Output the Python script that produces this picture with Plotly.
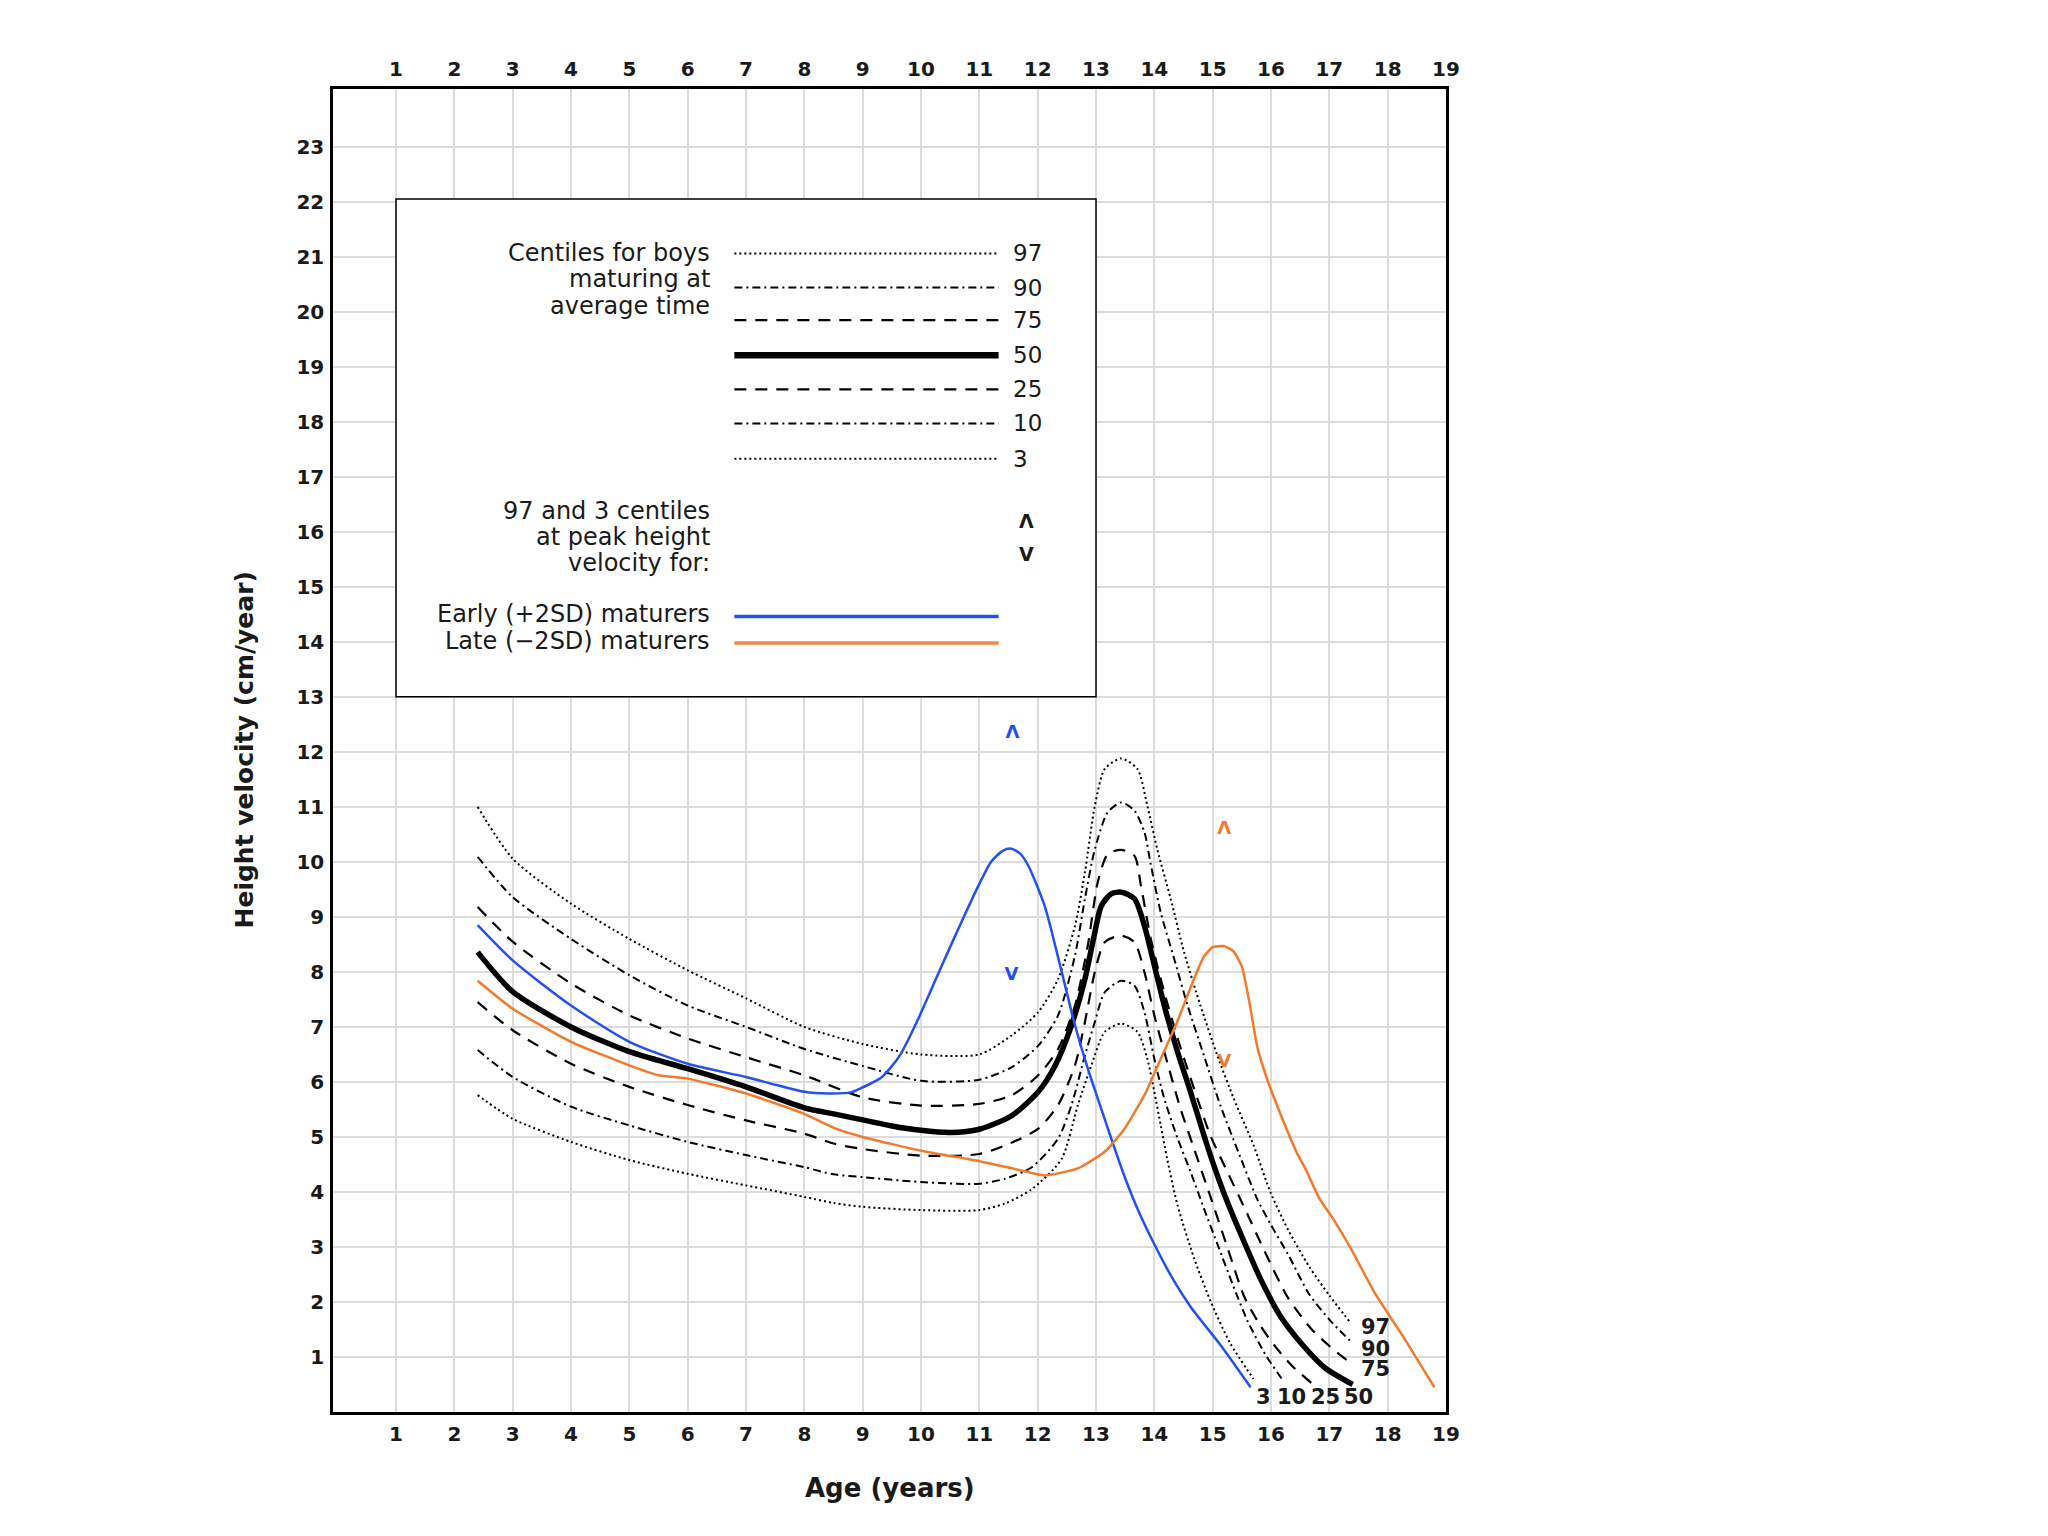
import plotly.graph_objects as go

# ---------------- data ----------------
age_p97 = [2.4, 3, 4, 5, 6, 7, 8, 9, 10, 11, 11.56, 12.01, 12.35, 12.64, 12.81, 12.98, 13.15, 13.43, 13.71, 13.88, 14.05, 14.28, 14.51, 14.79, 15.08, 15.36, 15.7, 16.0, 16.3, 16.65, 17.0, 17.35]
vel_p97 = [11.0, 10.06, 9.24, 8.6, 8.03, 7.52, 7.0, 6.69, 6.5, 6.5, 6.85, 7.27, 7.87, 8.84, 9.81, 11.02, 11.69, 11.88, 11.69, 11.02, 10.23, 9.33, 8.36, 7.39, 6.48, 5.7, 4.85, 3.97, 3.3, 2.65, 2.12, 1.64]

age_p90 = [2.4, 3, 4, 5, 6, 7, 8, 9, 10, 11, 11.56, 12.01, 12.35, 12.64, 12.81, 12.98, 13.2, 13.43, 13.66, 13.83, 13.94, 14.11, 14.34, 14.57, 14.85, 15.13, 15.45, 15.76, 16.0, 16.3, 16.65, 17.0, 17.35]
vel_p90 = [10.09, 9.36, 8.6, 7.94, 7.39, 7.0, 6.6, 6.29, 6.02, 6.04, 6.27, 6.66, 7.21, 8.3, 9.33, 10.23, 10.9, 11.08, 10.93, 10.54, 9.95, 9.08, 8.24, 7.39, 6.48, 5.58, 4.7, 3.88, 3.4, 2.85, 2.15, 1.68, 1.3]

age_p75 = [2.4, 3, 4, 5, 6, 7, 8, 9, 10, 11, 11.56, 12.01, 12.35, 12.64, 12.86, 13.03, 13.2, 13.43, 13.66, 13.77, 13.94, 14.17, 14.4, 14.68, 14.96, 15.25, 15.55, 15.9, 16.3, 16.7, 17.0, 17.35]
vel_p75 = [9.18, 8.55, 7.79, 7.21, 6.79, 6.45, 6.12, 5.72, 5.57, 5.6, 5.76, 6.12, 6.6, 7.39, 8.48, 9.63, 10.14, 10.22, 10.11, 9.57, 8.6, 7.63, 6.79, 5.88, 5.03, 4.37, 3.7, 2.9, 2.06, 1.5, 1.2, 0.9]

age_p50 = [2.4, 3, 4, 5, 6, 7, 8, 8.5, 9, 9.5, 10, 10.5, 11, 11.56, 12.01, 12.3, 12.58, 12.81, 12.98, 13.09, 13.26, 13.43, 13.66, 13.83, 14.0, 14.17, 14.4, 14.62, 14.85, 15.03, 15.25, 15.54, 15.82, 16.15, 16.55, 16.94, 17.4]
vel_p50 = [8.36, 7.64, 7.0, 6.55, 6.24, 5.91, 5.53, 5.42, 5.31, 5.2, 5.12, 5.08, 5.14, 5.39, 5.82, 6.3, 7.03, 7.87, 8.72, 9.2, 9.42, 9.45, 9.33, 8.84, 8.12, 7.39, 6.54, 5.82, 5.03, 4.45, 3.82, 3.09, 2.42, 1.76, 1.21, 0.79, 0.5]

age_p25 = [2.4, 3, 4, 5, 6, 7, 8, 8.5, 9, 10, 11, 11.56, 12.01, 12.35, 12.64, 12.81, 12.98, 13.15, 13.43, 13.66, 13.83, 14.0, 14.22, 14.45, 14.68, 14.95, 15.25, 15.54, 15.8, 16.05, 16.35, 16.7]
vel_p25 = [7.45, 6.94, 6.33, 5.91, 5.58, 5.3, 5.06, 4.88, 4.78, 4.66, 4.69, 4.9, 5.15, 5.58, 6.3, 7.09, 8.0, 8.54, 8.66, 8.54, 8.0, 7.21, 6.36, 5.51, 4.79, 3.95, 3.0, 2.1, 1.6, 1.22, 0.85, 0.52]

age_p10 = [2.4, 3, 4, 5, 6, 7, 8, 8.5, 9, 10, 11, 11.44, 11.9, 12.35, 12.58, 12.81, 12.98, 13.15, 13.43, 13.66, 13.83, 14.0, 14.17, 14.4, 14.62, 14.85, 15.1, 15.35, 15.6, 15.9, 16.2]
vel_p10 = [6.58, 6.09, 5.55, 5.21, 4.91, 4.67, 4.45, 4.32, 4.27, 4.18, 4.15, 4.24, 4.45, 4.97, 5.58, 6.48, 7.09, 7.63, 7.84, 7.75, 7.27, 6.42, 5.7, 4.97, 4.37, 3.7, 3.0, 2.3, 1.65, 1.05, 0.58]

age_p3 = [2.4, 3, 4, 5, 6, 7, 8, 8.5, 9, 10, 11, 11.44, 11.9, 12.41, 12.69, 12.92, 13.15, 13.43, 13.71, 13.88, 14.0, 14.11, 14.22, 14.4, 14.68, 14.97, 15.3, 15.7]
vel_p3 = [5.76, 5.33, 4.91, 4.58, 4.33, 4.12, 3.91, 3.8, 3.73, 3.67, 3.67, 3.79, 4.05, 4.6, 5.58, 6.3, 6.91, 7.06, 6.91, 6.42, 5.82, 5.21, 4.6, 3.75, 2.8, 2.0, 1.25, 0.6]

age_early = [2.4, 3, 4, 5, 6, 7, 7.5, 8, 8.4, 8.8, 9.0, 9.32, 9.63, 9.95, 10.35, 10.69, 11.0, 11.2, 11.4, 11.55, 11.7, 11.84, 12.12, 12.3, 12.47, 12.64, 12.86, 13.09, 13.32, 13.5, 13.73, 14.0, 14.3, 14.63, 15.14, 15.65]
vel_early = [8.85, 8.21, 7.39, 6.73, 6.33, 6.09, 5.95, 5.82, 5.79, 5.81, 5.9, 6.08, 6.47, 7.14, 8.1, 8.9, 9.6, 10.0, 10.2, 10.24, 10.15, 9.93, 9.2, 8.48, 7.75, 7.03, 6.24, 5.51, 4.79, 4.25, 3.65, 3.05, 2.45, 1.9, 1.21, 0.45]

age_late = [2.4, 3, 4, 5, 5.5, 6, 7, 8, 8.54, 9, 10, 11, 11.56, 12.12, 12.69, 13.15, 13.49, 13.83, 14.11, 14.39, 14.68, 14.85, 15.0, 15.19, 15.35, 15.5, 15.64, 15.76, 15.93, 16.15, 16.44, 16.6, 16.83, 17.06, 17.37, 17.77, 18.29, 18.8]
vel_late = [7.84, 7.33, 6.73, 6.3, 6.12, 6.06, 5.79, 5.42, 5.15, 5.0, 4.75, 4.56, 4.43, 4.3, 4.43, 4.73, 5.15, 5.76, 6.42, 7.09, 7.87, 8.28, 8.45, 8.47, 8.38, 8.1, 7.39, 6.66, 6.06, 5.45, 4.72, 4.4, 3.88, 3.52, 2.97, 2.18, 1.33, 0.45]

# 97th / 3rd centile markers at peak height velocity
early_peak_age = [11.57, 11.55]
early_peak_vel = [12.33, 7.93]
late_peak_age = [15.2, 15.2]
late_peak_vel = [10.58, 6.36]
peak_marks = ["Λ", "V"]

centile_names = ["97", "90", "75", "50", "25", "10", "3"]
x_ticks = list(range(1, 20))
y_ticks = list(range(1, 24))

# ---------------- styles ----------------
DOT = "2px,3px"
DASHDOT = "8px,4px,2px,4px"
DASH = "12px,9px"
BLUE = "#2450ee"
ORANGE = "#f27a2a"
TXT = "#1a1a1a"
FONT = "DejaVu Sans"

centile_data = {
    "97": (age_p97, vel_p97), "90": (age_p90, vel_p90), "75": (age_p75, vel_p75),
    "50": (age_p50, vel_p50), "25": (age_p25, vel_p25), "10": (age_p10, vel_p10),
    "3": (age_p3, vel_p3),
}
centile_style = {
    "97": dict(dash=DOT, width=2), "90": dict(dash=DASHDOT, width=2),
    "75": dict(dash=DASH, width=2.2), "50": dict(dash="solid", width=5.5),
    "25": dict(dash=DASH, width=2.2), "10": dict(dash=DASHDOT, width=2),
    "3": dict(dash=DOT, width=2),
}

fig = go.Figure()

for name in centile_names:
    ages, vels = centile_data[name]
    st = centile_style[name]
    fig.add_trace(go.Scatter(
        x=ages, y=vels, mode="lines", name=name + "th centile",
        line=dict(color="black", width=st["width"], dash=st["dash"], shape="spline", smoothing=0.7),
        showlegend=False, hoverinfo="skip"))

fig.add_trace(go.Scatter(x=age_early, y=vel_early, mode="lines", name="Early (+2SD) maturers",
                         line=dict(color=BLUE, width=2.5, shape="spline", smoothing=0.7),
                         showlegend=False, hoverinfo="skip"))
fig.add_trace(go.Scatter(x=age_late, y=vel_late, mode="lines", name="Late (−2SD) maturers",
                         line=dict(color=ORANGE, width=2.5, shape="spline", smoothing=0.5),
                         showlegend=False, hoverinfo="skip"))

fig.add_trace(go.Scatter(x=early_peak_age, y=early_peak_vel, mode="text", text=peak_marks,
                         textfont=dict(family=FONT, size=18, color=BLUE, weight="bold"),
                         showlegend=False, hoverinfo="skip"))
fig.add_trace(go.Scatter(x=late_peak_age, y=late_peak_vel, mode="text", text=peak_marks,
                         textfont=dict(family=FONT, size=18, color=ORANGE, weight="bold"),
                         showlegend=False, hoverinfo="skip"))

# ---------------- in-chart key (legend box) ----------------
KEY_X0, KEY_X1 = 6.8, 11.33
key_rows = {"97": 21.06, "90": 20.44, "75": 19.85, "50": 19.21, "25": 18.59, "10": 17.97, "3": 17.33}
for name in centile_names:
    st = centile_style[name]
    yy = key_rows[name]
    fig.add_trace(go.Scatter(x=[KEY_X0, KEY_X1], y=[yy, yy], mode="lines",
                             line=dict(color="black", width=(6.5 if name == "50" else st["width"]), dash=st["dash"]),
                             showlegend=False, hoverinfo="skip"))
fig.add_trace(go.Scatter(x=[KEY_X0, KEY_X1], y=[14.46, 14.46], mode="lines",
                         line=dict(color=BLUE, width=3.5), showlegend=False, hoverinfo="skip"))
fig.add_trace(go.Scatter(x=[KEY_X0, KEY_X1], y=[13.98, 13.98], mode="lines",
                         line=dict(color="#f0864a", width=3.5), showlegend=False, hoverinfo="skip"))

# dummy trace so the top axis is drawn
fig.add_trace(go.Scatter(x=[1, 19], y=[1, 1], xaxis="x2", mode="markers",
                         marker=dict(opacity=0), showlegend=False, hoverinfo="skip"))

annotations = []
def txt(x, y, s, anchor="right", size=24, color=TXT, weight="normal", xref="x", yref="y", **kw):
    annotations.append(dict(x=x, y=y, xref=xref, yref=yref, text=s, showarrow=False,
                            xanchor=anchor, yanchor="middle",
                            font=dict(family=FONT, size=size, color=color, weight=weight), **kw))

TEXT_R = 6.42
for s, yy in [("Centiles for boys", 21.06), ("maturing at", 20.59), ("average time", 20.11),
              ("97 and 3 centiles", 16.38), ("at peak height", 15.91), ("velocity for:", 15.43),
              ("Early (+2SD) maturers", 14.51), ("Late (−2SD) maturers", 14.02)]:
    txt(TEXT_R, yy, s)
for name in centile_names:
    txt(11.55, key_rows[name], name, anchor="left", size=23)
txt(11.8, 16.19, "Λ", anchor="center", size=19, weight="bold")
txt(11.8, 15.6, "V", anchor="center", size=19, weight="bold")

# centile labels at the end of the curves
for s, yy in [("97", 1.54), ("90", 1.15), ("75", 0.78)]:
    txt(17.5, yy, s, anchor="left", size=21, weight="bold")
for s, xx in [("3", 15.87), ("10", 16.35), ("25", 16.93), ("50", 17.5)]:
    txt(xx, 0.27, s, anchor="center", size=21, weight="bold")

# axis titles
txt(-(333 - 244) / 1113, 0.5, "Height velocity (cm/year)", anchor="center", size=25, weight="bold",
    xref="paper", yref="paper", textangle=-90)
txt(0.5, -(1488 - 1412) / 1323, "Age (years)", anchor="center", size=26, weight="bold",
    xref="paper", yref="paper")

shapes = [dict(type="rect", xref="x", yref="y", x0=1, x1=13, y0=13, y1=22.05,
               line=dict(color="black", width=1.5), fillcolor="white", layer="between")]

axis_common = dict(showgrid=True, gridcolor="#dcdcdc", gridwidth=2, zeroline=False,
                   ticks="", showline=True, linecolor="black", linewidth=2.5, mirror=True,
                   tickfont=dict(family=FONT, size=20, color=TXT, weight="bold"))

fig.update_layout(
    width=2048, height=1536,
    margin=dict(l=333, r=602, t=89, b=124, pad=0),
    paper_bgcolor="white", plot_bgcolor="white",
    xaxis=dict(range=[-0.08, 19], tickvals=x_ticks, ticklabelstandoff=2, **axis_common),
    xaxis2=dict(overlaying="x", side="top", matches="x", range=[-0.08, 19], tickvals=x_ticks,
                showgrid=False, zeroline=False, showline=False, ticks="", ticklabelstandoff=8,
                tickfont=dict(family=FONT, size=20, color=TXT, weight="bold")),
    yaxis=dict(range=[0, 24.05], tickvals=y_ticks, ticklabelstandoff=2, **axis_common),
    annotations=annotations, shapes=shapes, showlegend=False,
)

fig.write_html("out.html")
